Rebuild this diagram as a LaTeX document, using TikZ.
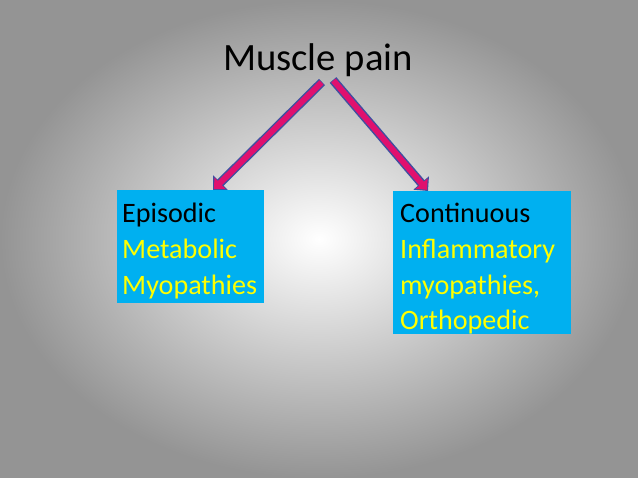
\documentclass[tikz,border=0pt]{standalone}
\usepackage{fontspec}
\setmainfont{Carlito}
\usetikzlibrary{arrows.meta}
\definecolor{boxblue}{HTML}{00B0F0}
\definecolor{ylw}{HTML}{FFFF00}
\definecolor{mag}{HTML}{E0106E}
\definecolor{edge}{HTML}{3F4FA0}
\begin{document}
\begin{tikzpicture}[x=0.03cm,y=-0.03cm,
  box/.style={fill=boxblue},
  txt/.style={anchor=north west,align=left,inner sep=0pt,font=\fontsize{24}{30.5}\selectfont},
  arr/.style={line width=7.5pt,edge,-{Triangle[length=9pt,width=17pt]},
    postaction={draw=mag,line width=5pt,-{Triangle[length=7pt,width=13pt]},shorten >=1.3pt,shorten <=0.6pt}}]
\shade[inner color=white,outer color=black!42] (0,0) rectangle (638,478);
\useasboundingbox (0,0) rectangle (638,478);
\node (t) at (318,60) {\fontsize{33}{38}\selectfont Muscle pain};
\path[box] (117,190) rectangle (264,303);
\path[box] (393,191) rectangle (571,334);
\node[txt] (l) at (122,203) {Episodic\\\textcolor{ylw}{Metabolic}\\\textcolor{ylw}{Myopathies}};
\node[txt] (r) at (400,203) {Continuous\\\textcolor{ylw}{Inflammatory}\\\textcolor{ylw}{myopathies,}\\\textcolor{ylw}{Orthopedic}};
\coordinate (a1) at (322,82);
\coordinate (a2) at (333,80);
\coordinate (e1) at (213,190);
\coordinate (e2) at (428,191);
\draw[arr] (a1) -- (e1);
\draw[arr] (a2) -- (e2);
\end{tikzpicture}
\end{document}
